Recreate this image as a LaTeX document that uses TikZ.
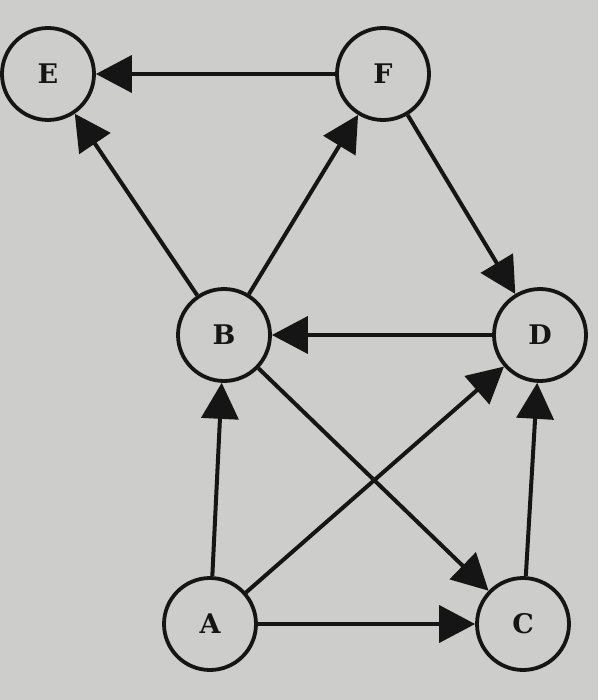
\documentclass[tikz,border=0pt]{standalone}
\usepackage{fontspec}
\newfontfamily\lblfont{DejaVu Serif}
\usetikzlibrary{arrows.meta}
\definecolor{bg}{HTML}{CDCDCB}
\definecolor{ink}{HTML}{151515}
\newcommand{\lbl}[1]{{\lblfont\bfseries\fontsize{27}{27}\selectfont #1}}
\begin{document}
\begin{tikzpicture}[x=1pt,y=-1pt,
  vertex/.style={circle,draw=ink,line width=3.8pt,minimum size=92pt,inner sep=0pt,text=ink},
  edge/.style={draw=ink,line width=4pt,-{Triangle[length=36pt,width=37pt]}}]
\fill[bg] (0,0) rectangle (598,700);
\useasboundingbox (0,0) rectangle (598,700);
\node[vertex] (E) at (48,74) {\lbl{E}};
\node[vertex] (F) at (383,74) {\lbl{F}};
\node[vertex] (B) at (224,335) {\lbl{B}};
\node[vertex] (D) at (540,335) {\lbl{D}};
\node[vertex] (A) at (210,624) {\lbl{A}};
\node[vertex] (C) at (523,624) {\lbl{C}};
\draw[edge] (F) -- (E);
\draw[edge] (B) -- (E);
\draw[edge] (B) -- (F);
\draw[edge] (F) -- (D);
\draw[edge] (D) -- (B);
\draw[edge] (A) -- (B);
\draw[edge] (A) -- (D);
\draw[edge] (B) -- (C);
\draw[edge] (A) -- (C);
\draw[edge] (C) -- (D);
\end{tikzpicture}
\end{document}
